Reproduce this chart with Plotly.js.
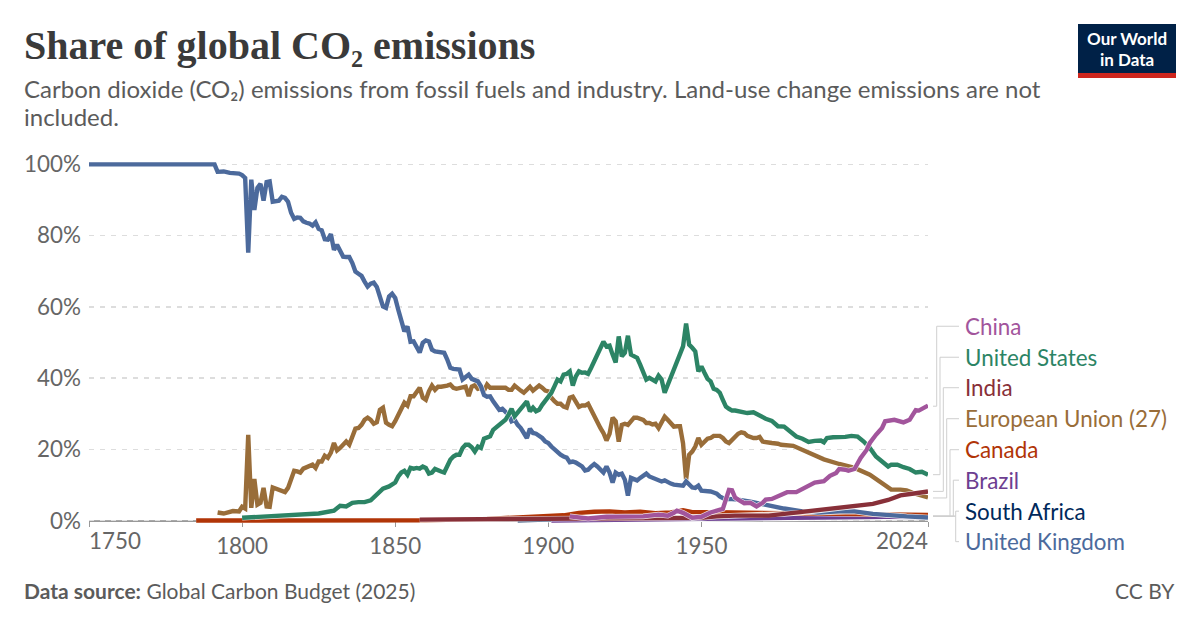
<!DOCTYPE html>
<html><head><meta charset="utf-8">
<script src="https://cdn.plot.ly/plotly-3.0.1.min.js"></script>
<style>html,body{margin:0;padding:0;background:#fff}#c{width:1200px;height:627px}</style>
</head><body><div id="c"></div>
<script>
function yrs(a,b){var r=[];for(var i=a;i<=b;i++)r.push(i);return r;}

var ukYears=[1750,1791,1792,1794,1796,1798,1799].concat(yrs(1800,1959),[1962,1966,1972,1977,1983,1988,1995,2000,2006,2011,2017,2024]);
var ukValues=[100,100,97.9,98,97.6,97.6,97.4,
97,96.2,75.2,95.7,87.2,93.4,94.5,89.8,95,95.2,
89.5,89.6,89.8,90.9,90.6,89.5,86.4,84.7,85.1,85,
84,83.6,83.4,82.8,83.7,81.9,81.5,79,78.9,80.4,
76,77.4,75.5,74.1,74,74,72.3,69.9,69.3,68.7,
67.1,65.7,66.5,66.8,65.6,62.9,60.1,59.7,62.9,63.7,
62.5,59.2,55.9,53.1,54.5,50.2,50.3,48.9,47.2,49.9,
50.6,50.3,48,47.5,47.4,47.4,47.1,45.2,42.9,42.6,
42.6,42.4,39.6,40.5,41,39.8,39.4,39.1,37.7,35.3,
34.8,34.9,33.5,32.1,31.1,31.4,30.7,29.7,27.9,28.3,
26.9,26,24.6,23.2,25.8,24.6,24.4,23.8,23.2,22.2,
21.8,20.8,19.9,19.4,18.5,18,17.7,16.4,16.6,16.3,
15.7,15.2,14.1,14.3,15.2,15.9,15.2,14.3,13.5,15.2,
13.5,10.7,13.5,12.9,13.2,11.5,7,12,11.5,11.3,
12,12.6,13.2,12.4,12.1,11.7,11.3,11,11.3,10.7,
10.4,10.1,9.9,9.8,9.8,11,10.1,9.3,9.2,9.8,
8.4,8.4,8.2,8.2,7.9,7.6,6.8,6.5,5.9,6.1,
5.9,5.3,4.2,3.4,2.6,2.3,2.6,2.6,1.9,1.5,1.2,0.9];

var euYears=[1792,1794,1797,1799].concat(yrs(1800,1973),[1975,1976,1980,1985,1990,1995,2000,2005,2008,2010,2012,2015,2017,2019,2021,2022,2024]);
var euValues=[2.3,2,2.7,2.6,
3.9,3.4,24.1,3.6,11.7,4.5,5,9.2,4,3.9,
9.3,9,8.7,8.2,8,9.2,12,14,13.8,13.5,
14.6,15,15.1,15.7,14.8,16.6,16.6,18.2,17.6,19.1,
21.8,19.7,20.4,21.3,22.2,21.3,23.2,25.8,26,26.9,
28.3,28.9,28.3,27.2,27.6,31.1,31.7,27.5,26.9,26.5,
27.9,29.7,31.7,33.1,32.3,34.9,34.9,36.3,37.3,34.5,
33.9,36.3,37.9,36.7,37.6,37.6,37.6,37.9,38.2,37.3,
37,37.3,37.6,37.6,35,37.6,38,37,37.2,36.5,
38.2,37.3,37.3,37.3,37.3,37.6,37.3,36.7,36.7,37.9,
37,36.5,35.9,36.7,37.6,36.5,37.3,37.9,37.3,36.5,
36.3,34.5,33.5,32.8,32.8,32,31.7,34.5,34.8,33,
31.9,32.3,32.3,32.8,31.1,28.9,27.4,26,24.6,22.5,
24.4,28.9,27.9,22.2,26.9,27.2,26.9,27.9,28.9,28.9,
28.6,28.3,27.4,27.4,27,27.2,26,27.9,29.2,28.3,
27.4,26.4,26.5,26.5,21.7,11.5,18.5,19.4,20.8,23.2,
21.3,22.2,23,23.2,23.8,23.8,23.8,23.2,22.2,21.8,
22.7,23.7,24.4,24.8,24.6,23.8,23.4,23.2,23.2,23.5,
22.2,22,21.8,21.8,
21.6,21.3,21,19,17.2,15.9,14.8,12.9,11,9.6,8.7,8.7,8.5,7.8,7.3,6.8,6.5];

var usYears=[1800,1810,1820,1825,1830,1832,1834,1836,1838,1840,1842,1844,1846,1848,1849].concat(yrs(1850,1965),[1967,1969,1971,1973,1975,1977,1979,1981,1983,1985,1987,1989,1990,1991,1993,1995,1997,1999,2001,2003,2005,2007,2009,2011,2012,2014,2016,2018,2020,2021,2022,2024]);
var usValues=[0.8,1.4,1.7,2,2.8,4.2,4,5,5.2,5.2,5.7,7.3,9,9.6,10.1,
10.7,12.4,13.5,14,12.9,14.8,14.6,14.8,14.6,15.2,
14.8,13.2,13.5,14.5,14.3,13.8,13.5,15.7,17.1,18,
18.5,18.5,20.4,21.3,21.3,20.6,19.4,20.8,20.4,23,
23.5,23.7,25.5,26.3,26.9,27.9,28.3,29.7,31.4,29.3,
30.3,31.1,32.5,33.5,30.7,31.7,30.7,31.1,32.5,33.5,
34.9,35.9,37.7,39.6,39.1,41,41.2,41.9,37.9,40.5,
41.9,41.5,41.6,41.2,42.9,44.7,46.1,48.5,50.2,48.9,
49.1,46.6,44.4,51.7,46.1,47.1,51.9,46.6,46,45.7,
43.8,41.9,39.6,40.1,39.6,39.1,40.7,39.6,35.9,38.1,
40,42.4,44.7,46.6,48.9,55.3,49.4,48.5,47.5,41.9,
43.3,41.5,39.8,39.1,37,36.7,35.9,33.9,32,31.4,
30.9,30.9,30.7,30.4,30.2,30.2,
30.4,29.4,28.6,28,26.5,26.4,25,23.6,23,22.1,22.4,22.5,22,23.2,23.4,23.4,23.5,23.8,23.6,22.2,20.4,18,16.6,15.2,15.7,15.7,15,14.5,13.5,13.7,13.7,12.9];

var chinaYears=[1907,1913,1919,1925,1931,1936,1939,1941,1942,1944,1947,1950,1953,1957,1958,1959,1960,1961,1962,1964,1966,1968,1970,1971,1973,1976,1978,1981,1984,1987,1990,1992,1994,1995,1997,1998,2000,2002,2004,2005,2007,2009,2010,2013,2016,2018,2019,2020,2021,2023,2024];
var chinaValues=[1.2,0.6,1.1,1.2,1.2,1.7,1.4,2.2,2.8,2.2,0.8,1.1,2.3,3.3,6.4,8.6,8.5,6.5,5.9,4.9,5,4,5,5.9,6.1,7.3,8,8,9.4,10.7,11.1,12.6,13.4,14.5,14.3,14,14.5,17.6,19.9,21.8,24.1,26,27.9,28.3,27.6,28.3,29.7,31,30.9,32,32.3];

var indiaYears=[1858,1880,1900,1920,1935,1945,1950,1955,1961,1972,1977,1983,1988,1992,1995,2001,2006,2011,2015,2020,2022,2024];
var indiaValues=[0.3,0.4,0.5,0.8,0.9,1,0.8,1.2,1.4,1.4,1.9,2.3,2.9,3.3,3.7,4.2,4.7,5.8,7.1,7.7,8,8.2];

var canadaYears=[1785,1860,1880,1890,1900,1905,1910,1912,1915,1920,1925,1930,1935,1940,1944,1947,1950,1955,1960,1970,1990,2000,2010,2024];
var canadaValues=[0.05,0.1,0.5,0.8,1.1,1.5,2.2,2.4,2.5,2.6,2.3,2.5,2.1,2.3,2.9,2.4,2.3,2.4,2.3,2.2,1.9,2,1.7,1.6];

var brazilYears=[1901,1920,1950,1970,1988,2010,2024];
var brazilValues=[0.05,0.2,0.3,0.5,0.9,1.1,1];

var southAfricaYears=[1890,1900,1950,1990,2010,2024];
var southAfricaValues=[0.1,0.3,0.5,1,1.1,1];

var seriesNames=['South Africa','Brazil','Canada','European Union (27)','United Kingdom','United States','India','China'];
var seriesColors=['#00295B','#6D3E91','#B13507','#996D39','#4C6A9C','#2C8465','#883039','#A2559C'];
var seriesYears=[southAfricaYears,brazilYears,canadaYears,euYears,ukYears,usYears,indiaYears,chinaYears];
var seriesValues=[southAfricaValues,brazilValues,canadaValues,euValues,ukValues,usValues,indiaValues,chinaValues];

var labelOrder=['China','United States','India','European Union (27)','Canada','Brazil','South Africa','United Kingdom'];
var xTickVals=[1750,1800,1850,1900,1950,2024];
var xTickText=['','1800','1850','1900','1950',''];
var yTickVals=[0,20,40,60,80,100];
var yTickText=['0%','20%','40%','60%','80%','100%'];
var yPad=1.5; // headroom so thick lines at 0% and 100% are not clipped

var W=1200,H=627,L=89,R=272;
var T=164.5-yPad*3.565,B=106-yPad*3.565;
function px(x){return (x-L)/(W-L-R);}
function py(y){return (H-B-y)/(H-T-B);}

var traces=[];
seriesNames.forEach(function(n,i){
  traces.push({x:seriesYears[i],y:seriesValues[i],mode:'lines',line:{color:'rgba(255,255,255,0.85)',width:5.6},hoverinfo:'skip',showlegend:false});
  traces.push({x:seriesYears[i],y:seriesValues[i],mode:'lines',name:n,line:{color:seriesColors[i],width:4.4},showlegend:false});
});

var annotations=[], shapes=[];
function text(t,x,y,size,color,anchor){
  var a=anchor||'left';
  annotations.push({text:t,xref:'paper',yref:'paper',x:px(x),y:py(y),xanchor:a,yanchor:'middle',showarrow:false,align:a,xshift:a==='left'?-2:(a==='right'?2:0),font:{family:'Lato',size:size,color:color}});
}
function seg(x0,y0,x1,y1){shapes.push({type:'line',xref:'paper',yref:'paper',x0:px(x0),y0:py(y0),x1:px(x1),y1:py(y1),line:{color:'#cfcfcf',width:1}});}

var labelY=[326.5,357.5,388,419,450,480.5,511.5,542];
var connX=[936.7,940,943.3,946.7,950,953.3,955.7,955.7];
var startY=[406.5,475,491.7,498.3,516.5,516.5,516.5,516.5];
labelOrder.forEach(function(n,i){
  var c=seriesColors[seriesNames.indexOf(n)];
  text(n,965,labelY[i],22.4,c);
  seg(933,startY[i],connX[i],startY[i]);
  seg(connX[i],startY[i],connX[i],labelY[i]);
  seg(connX[i],labelY[i],959,labelY[i]);
});

annotations.push({text:'1750',xref:'x',yref:'paper',x:1750,y:py(541),xanchor:'left',yanchor:'middle',showarrow:false,xshift:-2,font:{family:'Lato',size:22.4,color:'#666'}});
annotations.push({text:'2024',xref:'x',yref:'paper',x:2024,y:py(541),xanchor:'right',yanchor:'middle',showarrow:false,xshift:2,font:{family:'Lato',size:22.4,color:'#666'}});

text('Carbon dioxide (CO₂) emissions from fossil fuels and industry. Land-use change emissions are not',24,89,24,'#5b5b5b');
text('included.',24,117,24,'#5b5b5b');
text('<b>Data source:</b> Global Carbon Budget (2025)',24,591,21,'#5b5b5b');
text('CC BY',1175,591,21,'#5b5b5b','right');

shapes.push({type:'line',xref:'x',yref:'y',x0:1750,x1:2024,y0:0,y1:0,layer:'below',line:{color:'#999',width:1}});
shapes.push({type:'rect',xref:'paper',yref:'paper',x0:px(1078),x1:px(1176),y0:py(24),y1:py(73),fillcolor:'#002147',line:{width:0}});
shapes.push({type:'rect',xref:'paper',yref:'paper',x0:px(1078),x1:px(1176),y0:py(73),y1:py(78),fillcolor:'#CE261E',line:{width:0}});
text('<b>Our World</b>',1127,38.5,17,'#fff','center');
text('<b>in Data</b>',1127,59.5,17,'#fff','center');

var layout={
  width:W,height:H,margin:{l:L,r:R,t:T,b:B,pad:0},
  paper_bgcolor:'#fff',plot_bgcolor:'#fff',showlegend:false,
  title:{text:'<b>Share of global CO₂ emissions</b>',x:24/W,xanchor:'left',y:1-45/H,yanchor:'middle',font:{family:'Liberation Serif',size:40,color:'#3a3a3a'}},
  xaxis:{range:[1750,2024],anchor:'free',position:yPad/(100+2*yPad),layer:'below traces',tickvals:xTickVals,ticktext:xTickText,ticks:'outside',ticklen:5,tickcolor:'#999',tickwidth:1,showgrid:false,zeroline:false,showline:true,linecolor:'#999',linewidth:1,tickfont:{family:'Lato',size:22.4,color:'#666'}},
  yaxis:{range:[-yPad,100+yPad],tickvals:yTickVals,ticktext:yTickText,ticks:'',showgrid:true,gridcolor:'#dddddd',griddash:'5px,6px',gridwidth:1.5,zeroline:false,showline:false,tickfont:{family:'Lato',size:22.4,color:'#666'},ticklabelstandoff:7},
  annotations:annotations,shapes:shapes
};
Plotly.newPlot('c',traces,layout,{displayModeBar:false,staticPlot:true});
</script></body></html>
